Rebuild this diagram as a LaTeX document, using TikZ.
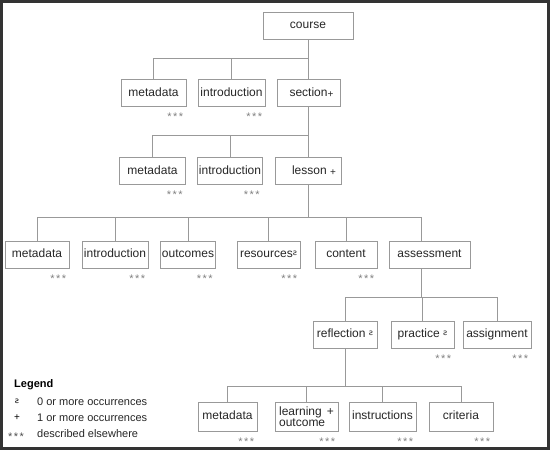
\documentclass[tikz,border=0pt]{standalone}
\usepackage{fontspec}
\setmainfont{Liberation Sans}
\newfontfamily\symfont{DejaVu Sans}
\usetikzlibrary{positioning}
\tikzset{
  box/.style={draw=gray!80, line width=0.8pt, minimum height=27pt, inner sep=1pt, text height=8.5pt, text depth=2pt, font=\fontsize{12}{10.5}\selectfont, text=black!85},
  link/.style={draw=gray!80, line width=0.8pt},
  stars/.style={font=\fontsize{11}{11}\selectfont, text=gray, inner sep=0pt, anchor=north east},
  legtext/.style={anchor=west, inner sep=0pt, font=\fontsize{11}{11}\selectfont, text=black!85},
}
\newcommand{\zeromore}{{\symfont\fontsize{8}{8}\selectfont\raisebox{2pt}{ƨ}}}
\newcommand{\onemore}{{\fontsize{10}{10}\selectfont\raisebox{-1pt}{+}}}
\newcommand{\elsewhere}{*\kern1.5pt*\kern1.5pt*}

\begin{document}
\begin{tikzpicture}[x=1pt,y=-1pt]
\useasboundingbox (0,0) rectangle (550,450);
\draw[line width=3pt, black!80] (1.5,1.5) rectangle (548.5,448.5);

% level 0
\node[box, minimum width=90pt] (course) at (308,25.5) {course};

% level 1
\node[box, minimum width=65pt] (meta1) at (153.5,93) {metadata};
\node[box, minimum width=67pt] (intro1) at (231.5,93) {introduction};
\node[box, minimum width=63pt] (section) at (308.5,93) {\hspace{6pt}section\onemore};
\foreach \c in {meta1,intro1,section}
  \draw[link] (course.south) -- ++(0,19) -| (\c.north);

% level 2
\node[box, minimum width=66pt] (meta2) at (152.5,171) {metadata};
\node[box, minimum width=65pt] (intro2) at (230,171) {introduction};
\node[box, minimum width=66pt] (lesson) at (308,171) {\hspace{12pt}lesson \onemore};
\foreach \c in {meta2,intro2,lesson}
  \draw[link] (section.south) -- ++(0,28) -| (\c.north);

% level 3
\node[box, minimum width=64pt] (meta3) at (37,254.5) {metadata};
\node[box, minimum width=66pt] (intro3) at (115,254.5) {introduction};
\node[box, minimum width=55pt] (outcomes) at (188,254.5) {outcomes};
\node[box, minimum width=63pt] (resources) at (268.5,254.5) {resources\zeromore};
\node[box, minimum width=62pt] (content) at (346,254.5) {content};
\node[box, minimum width=81pt] (assess) at (429.5,254.5) {assessment};
\foreach \c in {meta3,intro3,outcomes,resources,content}
  \draw[link] (lesson.south) -- ++(0,32) -| (\c.north);
\draw[link] (lesson.south) -- ++(0,32) -| ([xshift=-8pt]assess.north);

% level 4
\node[box, minimum width=64pt] (reflect) at (345,334.5) {reflection \zeromore};
\node[box, minimum width=63pt] (practice) at (422.5,334.5) {practice \zeromore};
\node[box, minimum width=68pt] (assign) at (497,334.5) {assignment};
\foreach \c in {reflect,practice,assign}
  \draw[link] ([xshift=-8pt]assess.south) -- ++(0,29) -| (\c.north);

% level 5
\node[box, minimum width=59pt, minimum height=29pt] (meta5) at (227.5,416.5) {metadata};
\node[box, minimum width=63pt, minimum height=29pt, text height=, text depth=, align=left] (learnout) at (306.5,416.5) {learning\hspace{5pt}+\\outcome};
\node[box, minimum width=67pt, minimum height=29pt] (instruct) at (382.5,416.5) {instructions};
\node[box, minimum width=64pt, minimum height=29pt] (criteria) at (461,416.5) {criteria};
\foreach \c in {meta5,learnout,instruct,criteria}
  \draw[link] (reflect.south) -- ++(0,38) -| (\c.north);

% described elsewhere
\foreach \b in {meta1,intro1,meta2,intro2,meta3,intro3,outcomes,resources,content,practice,assign,meta5,learnout,instruct,criteria}
  \node[stars] (\b-ast) at ([xshift=-3pt,yshift=-6pt]\b.south east) {\elsewhere};

% legend
\node[anchor=west, inner sep=0pt, font=\fontsize{11}{11}\selectfont\bfseries] (legend) at (14,385) {Legend};
\node[anchor=center, inner sep=0pt] (sym0) at (17,402) {\zeromore};
\node[legtext] (leg0) at (37,402) {0 or more occurrences};
\node[anchor=center, inner sep=0pt] (sym1) at (17,418) {\onemore};
\node[legtext] (leg1) at (37,418) {1 or more occurrences};
\node[anchor=center, inner sep=0pt, font=\fontsize{11}{11}\selectfont, text=black!70] (sym2) at (16,437) {\elsewhere};
\node[legtext] (leg2) at (37,434) {described elsewhere};
\end{tikzpicture}
\end{document}
